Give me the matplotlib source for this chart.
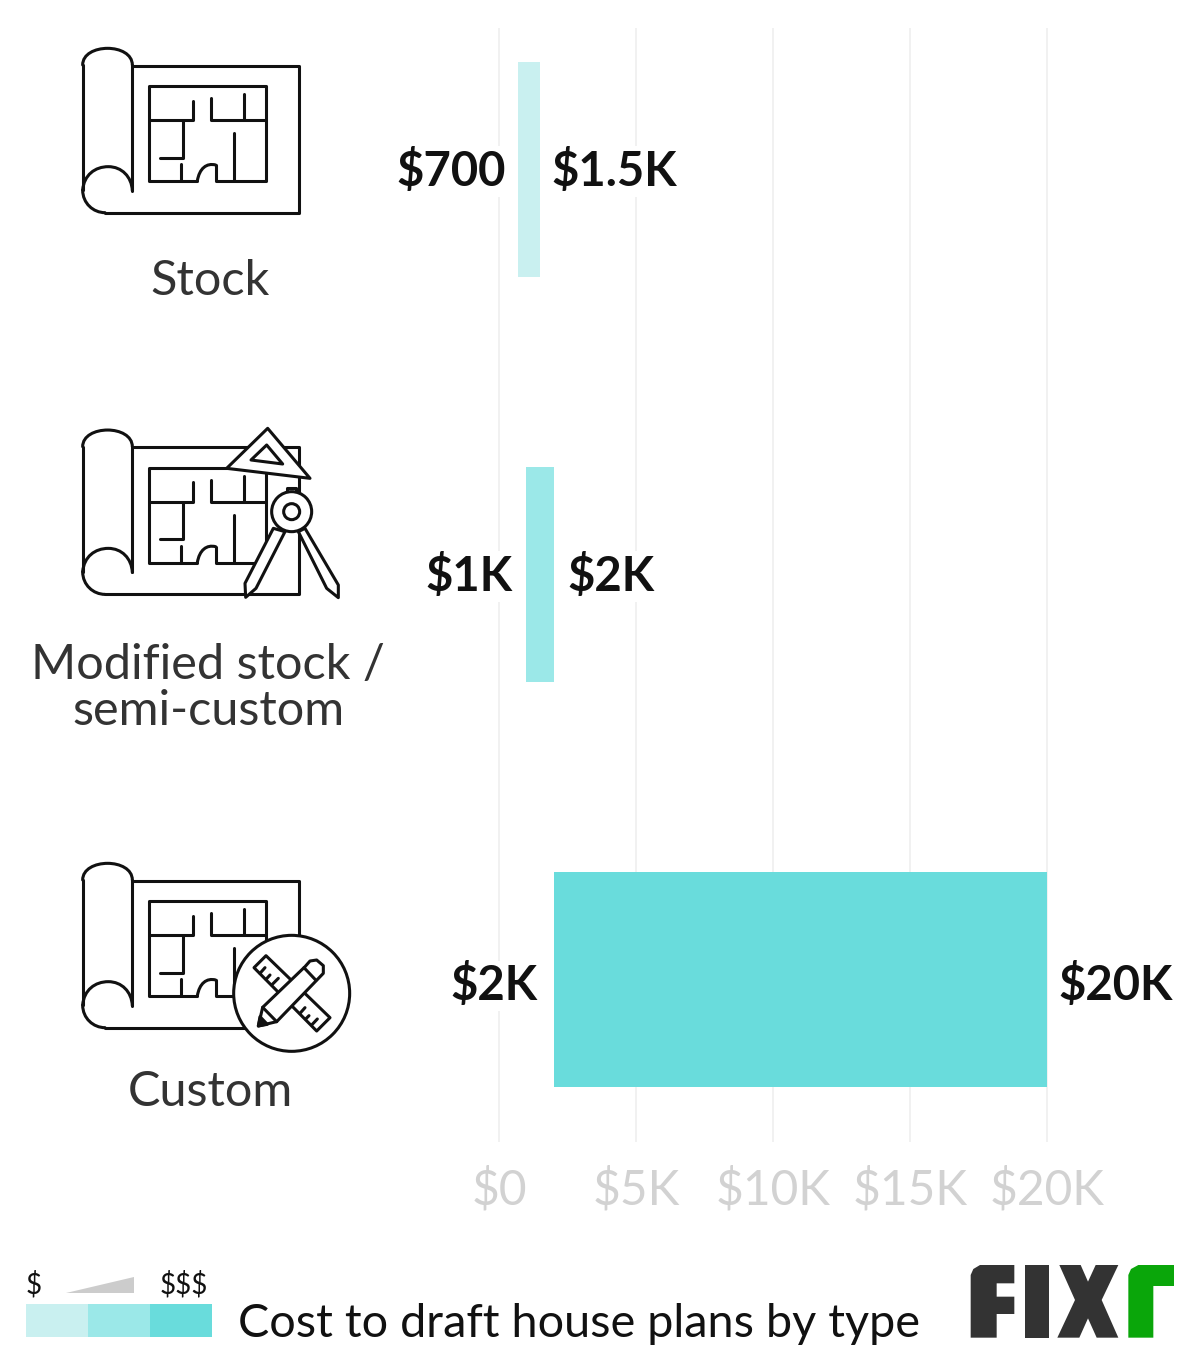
import matplotlib
matplotlib.use("Agg")
import matplotlib.pyplot as plt
from matplotlib.patches import Circle, Polygon, Rectangle, PathPatch
from matplotlib.path import Path

plt.rcParams["font.family"] = ["Lato", "DejaVu Sans"]

# data
categories = ["Stock", "Modified stock /\nsemi-custom", "Custom"]
low_values = [700, 1000, 2000]
high_values = [1500, 2000, 20000]
low_labels = ["$700", "$1K", "$2K"]
high_labels = ["$1.5K", "$2K", "$20K"]
bar_colors = ["#c9f0f0", "#9be8e8", "#69dcdc"]
tick_values = [0, 5000, 10000, 15000, 20000]
tick_labels = ["$0", "$5K", "$10K", "$15K", "$20K"]

W, H = 1200, 1364
fig = plt.figure(figsize=(W / 100, H / 100), dpi=100)

# chart axes, placed in pixels
px_per_dollar = 548 / 20000
left_px, right_px = 420, 1180
top_px, bottom_px = 28, 1142
ax = fig.add_axes([left_px / W, 1 - bottom_px / H, (right_px - left_px) / W, (bottom_px - top_px) / H])
ax.set_xlim((left_px - 499) / px_per_dollar, (right_px - 499) / px_per_dollar)
ax.set_ylim((bottom_px - 169) / 405, (top_px - 169) / 405)
for s in ax.spines.values():
    s.set_visible(False)
ax.set_yticks([])
ax.set_xticks(tick_values)
ax.set_xticklabels(tick_labels, fontsize=34.5, color="#d2d2d2")
ax.tick_params(axis="x", length=0, pad=18)
ax.grid(axis="x", color="#efefef", linewidth=1.2)
ax.set_axisbelow(True)
ax.patch.set_alpha(0)

# small per-label nudges, in points
low_nudge = [(-9, -2), (-10, -2), (-12, -5)]
high_nudge = [(8, -2), (10, -2), (8, -5)]

ypos = range(len(categories))
ax.barh(list(ypos), [h - l for h, l in zip(high_values, low_values)], left=low_values,
        height=215 / 405, color=bar_colors, zorder=3)
for i in ypos:
    box = dict(facecolor="white", edgecolor="none", pad=2)
    ax.annotate(low_labels[i], (low_values[i], i), xytext=low_nudge[i], textcoords="offset points",
                ha="right", va="center", fontsize=34, fontweight="bold", color="#111111", bbox=box, zorder=4)
    ax.annotate(high_labels[i], (high_values[i], i), xytext=high_nudge[i], textcoords="offset points",
                ha="left", va="center", fontsize=34, fontweight="bold", color="#111111", bbox=box, zorder=4)

# overlay in image pixels for the icons, legend and logo
ov = fig.add_axes([0, 0, 1, 1])
ov.set_xlim(0, W)
ov.set_ylim(H, 0)
ov.axis("off")
ov.patch.set_alpha(0)

LW = 2.2
INK = "#111111"


def line(pts, ox, oy, z=5):
    # pts come from the 3x zoom crops
    xs = [ox + p[0] / 3 for p in pts]
    ys = [oy + p[1] / 3 for p in pts]
    ov.plot(xs, ys, color=INK, lw=LW, solid_capstyle="round", solid_joinstyle="round", zorder=z)


def shape(pts, ox, oy, z=6, fc="white"):
    ov.add_patch(Polygon([(ox + p[0] / 3, oy + p[1] / 3) for p in pts], closed=True, fc=fc, ec=INK, lw=LW,
                         joinstyle="round", zorder=z))


def curve(verts, ox, oy, z=5):
    codes = [Path.MOVETO] + [Path.CURVE4] * (len(verts) - 1)
    p = Path([(ox + v[0] / 3, oy + v[1] / 3) for v in verts], codes)
    ov.add_patch(PathPatch(p, fc="none", ec=INK, lw=LW, capstyle="round", zorder=z))


def draw_plan(ox, oy):
    # roll
    curve([(68, 105), (68, 72), (105, 55), (143, 55), (180, 55), (217, 72), (217, 105)], ox, oy)
    line([(68, 105), (68, 480)], ox, oy)
    line([(217, 105), (217, 482)], ox, oy)
    curve([(68, 480), (72, 435), (105, 410), (145, 410), (185, 410), (215, 440), (217, 482)], ox, oy)
    curve([(68, 480), (68, 520), (100, 548), (135, 548)], ox, oy)
    # sheet
    line([(135, 548), (718, 548), (718, 107), (217, 107)], ox, oy)
    # floor plan
    line([(412, 453), (267, 453), (267, 168), (617, 168), (617, 453), (467, 453), (467, 405)], ox, oy)
    curve([(467, 405), (440, 398), (418, 415), (412, 453)], ox, oy)
    line([(267, 271), (398, 271), (398, 212)], ox, oy)
    line([(452, 205), (452, 271), (617, 271)], ox, oy)
    line([(551, 193), (551, 271)], ox, oy)
    line([(368, 271), (368, 383), (300, 383)], ox, oy)
    line([(364, 402), (364, 453)], ox, oy)
    line([(522, 310), (522, 453)], ox, oy)


OX = 60
draw_plan(OX, 30)

# modified stock icon
oy2 = 415
draw_plan(OX, 30 + 381.7)
shape([(623, 40), (750, 190), (500, 160)], OX, oy2, z=7)
shape([(620, 90), (668, 147), (573, 135)], OX, oy2, z=8)
shape([(640, 340), (555, 505), (557, 547), (588, 520), (675, 350)], OX, oy2, z=7)
shape([(735, 340), (835, 510), (835, 548), (800, 520), (715, 350)], OX, oy2, z=7)
shape([(682, 218), (708, 218), (708, 235), (682, 235)], OX, oy2, z=7)
ov.add_patch(Circle((OX + 695 / 3, oy2 + 290 / 3), 20, fc="white", ec=INK, lw=LW, zorder=8))
ov.add_patch(Circle((OX + 695 / 3, oy2 + 290 / 3), 8, fc="white", ec=INK, lw=LW, zorder=9))

# custom icon
oy3 = 850
draw_plan(OX, 30 + 815)
ov.add_patch(Circle((OX + 695 / 3, oy3 + 430 / 3), 58, fc="white", ec=INK, lw=LW, zorder=7))
shape([(618, 317), (582, 353), (770, 543), (810, 503)], OX, oy3, z=8)
for a, b in [((600, 370), (615, 353)), ((618, 388), (630, 375)), ((635, 405), (655, 385)),
             ((720, 490), (735, 473)), ((737, 507), (747, 497)), ((755, 525), (772, 507))]:
    line([a, b], OX, oy3, z=9)
shape([(595, 528), (608, 472), (735, 350), (750, 333), (770, 330), (790, 347), (790, 370), (650, 515)],
      OX, oy3, z=9)
line([(732, 353), (768, 391)], OX, oy3, z=10)
line([(608, 472), (650, 515)], OX, oy3, z=10)
shape([(595, 528), (600, 500), (622, 523)], OX, oy3, z=10, fc=INK)

# category labels
label_kw = dict(ha="center", va="center", fontsize=35, color="#333333")
ov.text(210, 281, categories[0], **label_kw)
ov.text(208, 688, categories[1], linespacing=1.06, **label_kw)
ov.text(210, 1092, categories[2], **label_kw)

# legend
for i, c in enumerate(bar_colors):
    ov.add_patch(Rectangle((26 + i * 62, 1304), 62, 33, fc=c, ec="none"))
ov.add_patch(Polygon([(66, 1293), (134, 1277), (134, 1293)], closed=True, fc="#cccccc", ec="none"))
ov.text(26, 1285, "$", ha="left", va="center", fontsize=20, color="#111111")
ov.text(160, 1285, "$$$", ha="left", va="center", fontsize=20, color="#111111")
ov.text(238, 1324, "Cost to draft house plans by type", ha="left", va="center", fontsize=33.7, color="#111111")

# logo
LX, LY = 950, 1250
DARK, GREEN = "#333333", "#0aa60a"


def logo(pts, color):
    ov.add_patch(Polygon([(LX + p[0] / 3, LY + p[1] / 3) for p in pts], closed=True, fc=color, ec="none", zorder=5))


logo([(62, 263), (62, 75), (70, 57), (90, 45), (193, 45), (193, 100), (140, 100), (140, 140), (193, 140),
      (193, 192), (140, 192), (140, 263)], DARK)
logo([(224, 45), (298, 45), (298, 263), (224, 263)], DARK)
logo([(328, 45), (392, 45), (414, 95), (437, 45), (505, 45), (455, 150), (505, 263), (440, 263), (414, 205),
      (388, 263), (322, 263), (375, 150)], DARK)
logo([(535, 263), (535, 75), (543, 57), (565, 45), (672, 45), (672, 108), (610, 108), (610, 263)], GREEN)

fig.savefig("out.png", dpi=100)
